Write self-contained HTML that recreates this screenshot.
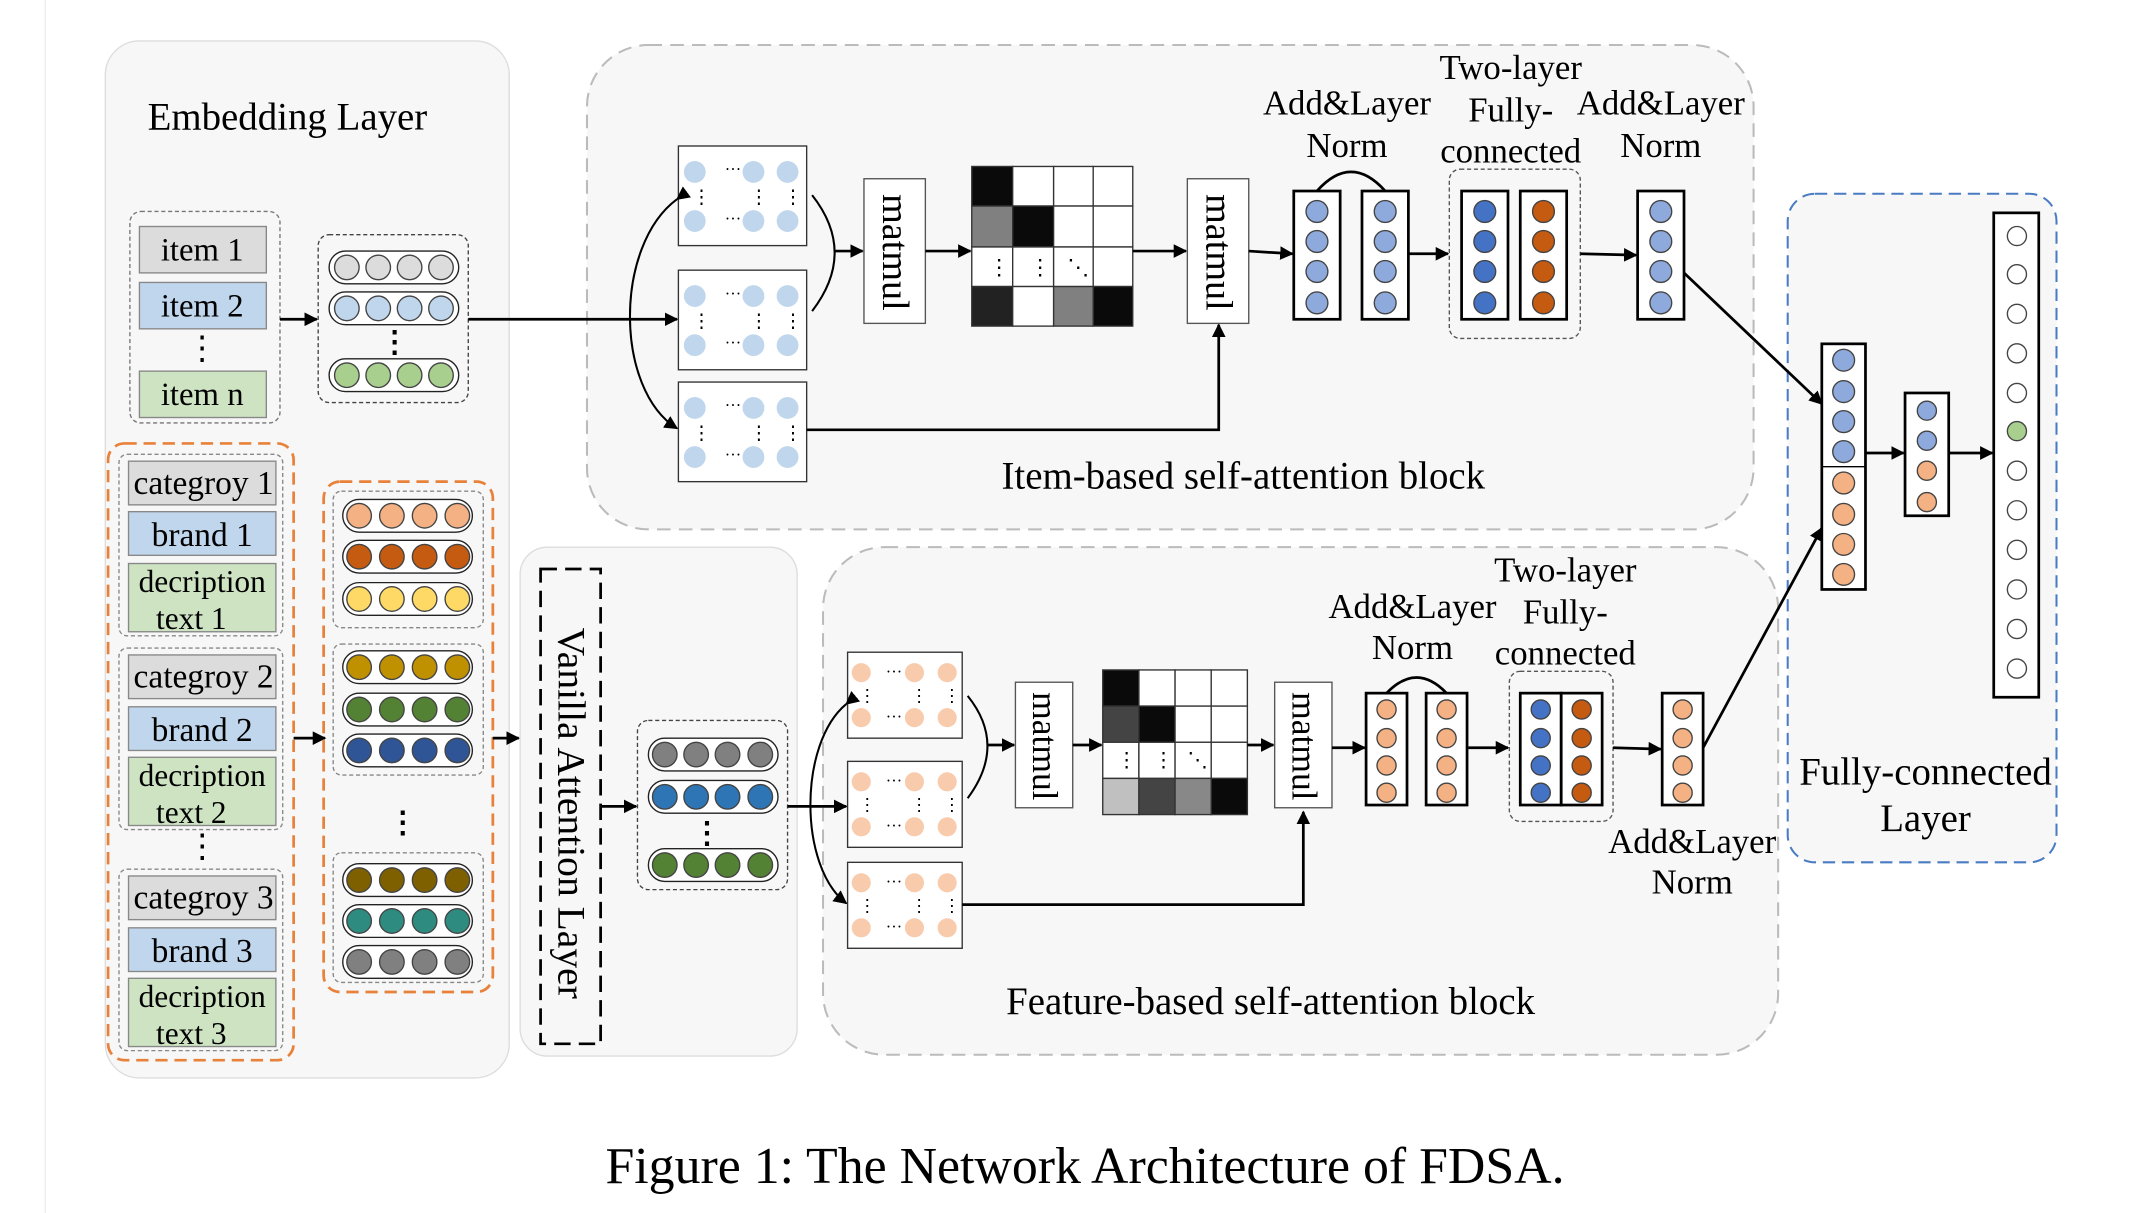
<!DOCTYPE html>
<html><head><meta charset="utf-8"><style>html,body{margin:0;padding:0;background:#fff}svg{display:block}text{font-family:"Liberation Serif",serif;fill:#000}</style></head><body>
<svg width="2140" height="1213" viewBox="0 0 1568 889" xmlns="http://www.w3.org/2000/svg">
<defs>
<marker id="a" markerWidth="10" markerHeight="10" refX="9" refY="5" orient="auto" markerUnits="userSpaceOnUse"><path d="M0,0 L10,5 L0,10 z" fill="#000"/></marker>
<g id="mi"><rect width="94" height="73" fill="#fff" stroke="#333"/>
<circle cx="12" cy="19" r="8" fill="#c0d6ec"/><circle cx="55" cy="19" r="8" fill="#c0d6ec"/><circle cx="80" cy="19" r="8" fill="#c0d6ec"/>
<circle cx="12" cy="55" r="8" fill="#c0d6ec"/><circle cx="55" cy="55" r="8" fill="#c0d6ec"/><circle cx="80" cy="55" r="8" fill="#c0d6ec"/>
<text x="34" y="21" font-size="12">···</text><text x="34" y="57" font-size="12">···</text>
<text x="10" y="42" font-size="14">⋮</text><text x="52" y="42" font-size="14">⋮</text><text x="77" y="42" font-size="14">⋮</text></g>
<g id="mf"><rect width="84" height="63" fill="#fff" stroke="#333"/>
<circle cx="10" cy="15" r="7" fill="#f8cbad"/><circle cx="49" cy="15" r="7" fill="#f8cbad"/><circle cx="73" cy="15" r="7" fill="#f8cbad"/>
<circle cx="10" cy="48" r="7" fill="#f8cbad"/><circle cx="49" cy="48" r="7" fill="#f8cbad"/><circle cx="73" cy="48" r="7" fill="#f8cbad"/>
<text x="28" y="18" font-size="12">···</text><text x="28" y="51" font-size="12">···</text>
<text x="8" y="36" font-size="13">⋮</text><text x="46" y="36" font-size="13">⋮</text><text x="70" y="36" font-size="13">⋮</text></g>
<g id="pill"><rect x="0" y="-12" width="95" height="24" rx="12" fill="#fff" stroke="#222"/></g>
</defs>
<rect width="1568" height="889" fill="#fff"/>
<line x1="33" y1="0" x2="33" y2="889" stroke="#eee"/>
<!-- Embedding panel -->
<rect x="77" y="30" width="296" height="760" rx="25" fill="#f7f7f7" stroke="#ddd"/>
<text x="108" y="95" font-size="28.5">Embedding Layer</text>
<rect x="95" y="155" width="110" height="155" rx="8" fill="none" stroke="#777" stroke-dasharray="3,2"/>
<rect x="102" y="166" width="93" height="34" fill="#dcdcdc" stroke="#888"/><text x="148" y="191" font-size="24" text-anchor="middle">item 1</text>
<rect x="102" y="207" width="93" height="34" fill="#c0d6ec" stroke="#888"/><text x="148" y="232" font-size="24" text-anchor="middle">item 2</text>
<text x="148" y="263" font-size="24" text-anchor="middle">⋮</text>
<rect x="102" y="272" width="93" height="34" fill="#cde3c2" stroke="#888"/><text x="148" y="297" font-size="24" text-anchor="middle">item n</text>
<line x1="205" y1="234" x2="232" y2="234" stroke="#000" stroke-width="2" marker-end="url(#a)"/>
<rect x="233" y="172" width="110" height="123" rx="8" fill="none" stroke="#444" stroke-dasharray="3,2"/>
<use href="#pill" x="241" y="196"/><g fill="#dcdcdc" stroke="#444"><circle cx="254" cy="196" r="9"/><circle cx="277" cy="196" r="9"/><circle cx="300" cy="196" r="9"/><circle cx="323" cy="196" r="9"/></g>
<use href="#pill" x="241" y="226"/><g fill="#c0d6ec" stroke="#444"><circle cx="254" cy="226" r="9"/><circle cx="277" cy="226" r="9"/><circle cx="300" cy="226" r="9"/><circle cx="323" cy="226" r="9"/></g>
<text x="289" y="258" font-size="22" text-anchor="middle" font-weight="bold">⋮</text>
<use href="#pill" x="241" y="275"/><g fill="#a9cf8f" stroke="#444"><circle cx="254" cy="275" r="9"/><circle cx="277" cy="275" r="9"/><circle cx="300" cy="275" r="9"/><circle cx="323" cy="275" r="9"/></g>
<!-- Attribute groups -->
<rect x="79" y="325" width="136" height="452" rx="12" fill="none" stroke="#e8823a" stroke-width="2" stroke-dasharray="9,5"/>
<g stroke="#888" stroke-dasharray="3,2" fill="none"><rect x="87" y="333" width="120" height="133" rx="6"/><rect x="87" y="475" width="120" height="133" rx="6"/><rect x="87" y="637" width="120" height="133" rx="6"/></g>
<g stroke="#888">
<rect x="94" y="338" width="108" height="32" fill="#dcdcdc"/><rect x="94" y="375" width="108" height="32" fill="#c0d6ec"/><rect x="94" y="413" width="108" height="50" fill="#cde3c2"/>
<rect x="94" y="480" width="108" height="32" fill="#dcdcdc"/><rect x="94" y="518" width="108" height="32" fill="#c0d6ec"/><rect x="94" y="555" width="108" height="50" fill="#cde3c2"/>
<rect x="94" y="642" width="108" height="32" fill="#dcdcdc"/><rect x="94" y="680" width="108" height="32" fill="#c0d6ec"/><rect x="94" y="717" width="108" height="50" fill="#cde3c2"/></g>
<g font-size="24.5" text-anchor="middle">
<text x="149" y="362">categroy 1</text><text x="148" y="400">brand 1</text>
<text x="149" y="504">categroy 2</text><text x="148" y="543">brand 2</text>
<text x="149" y="666">categroy 3</text><text x="148" y="705">brand 3</text>
<text x="148" y="628">⋮</text></g>
<g font-size="23" text-anchor="middle">
<text x="148" y="434">decription</text><text x="140" y="461">text 1</text>
<text x="148" y="576">decription</text><text x="140" y="603">text 2</text>
<text x="148" y="738">decription</text><text x="140" y="765">text 3</text></g>
<line x1="215" y1="541" x2="238" y2="541" stroke="#000" stroke-width="2" marker-end="url(#a)"/>
<rect x="237" y="353" width="124" height="374" rx="12" fill="none" stroke="#e8823a" stroke-width="2" stroke-dasharray="9,5"/>
<g stroke="#888" stroke-dasharray="3,2" fill="none"><rect x="244" y="360" width="110" height="100" rx="6"/><rect x="244" y="472" width="110" height="96" rx="6"/><rect x="244" y="625" width="110" height="95" rx="6"/></g>
<use href="#pill" x="251" y="378"/><g fill="#f4b183" stroke="#444"><circle cx="263" cy="378" r="9"/><circle cx="287" cy="378" r="9"/><circle cx="311" cy="378" r="9"/><circle cx="335" cy="378" r="9"/></g>
<use href="#pill" x="251" y="408"/><g fill="#c55a11" stroke="#444"><circle cx="263" cy="408" r="9"/><circle cx="287" cy="408" r="9"/><circle cx="311" cy="408" r="9"/><circle cx="335" cy="408" r="9"/></g>
<use href="#pill" x="251" y="439"/><g fill="#ffd966" stroke="#444"><circle cx="263" cy="439" r="9"/><circle cx="287" cy="439" r="9"/><circle cx="311" cy="439" r="9"/><circle cx="335" cy="439" r="9"/></g>
<use href="#pill" x="251" y="489"/><g fill="#bf9000" stroke="#444"><circle cx="263" cy="489" r="9"/><circle cx="287" cy="489" r="9"/><circle cx="311" cy="489" r="9"/><circle cx="335" cy="489" r="9"/></g>
<use href="#pill" x="251" y="520"/><g fill="#548235" stroke="#444"><circle cx="263" cy="520" r="9"/><circle cx="287" cy="520" r="9"/><circle cx="311" cy="520" r="9"/><circle cx="335" cy="520" r="9"/></g>
<use href="#pill" x="251" y="550"/><g fill="#2f5597" stroke="#444"><circle cx="263" cy="550" r="9"/><circle cx="287" cy="550" r="9"/><circle cx="311" cy="550" r="9"/><circle cx="335" cy="550" r="9"/></g>
<text x="295" y="610" font-size="22" text-anchor="middle" font-weight="bold">⋮</text>
<use href="#pill" x="251" y="645"/><g fill="#7f6000" stroke="#444"><circle cx="263" cy="645" r="9"/><circle cx="287" cy="645" r="9"/><circle cx="311" cy="645" r="9"/><circle cx="335" cy="645" r="9"/></g>
<use href="#pill" x="251" y="675"/><g fill="#2e8b80" stroke="#444"><circle cx="263" cy="675" r="9"/><circle cx="287" cy="675" r="9"/><circle cx="311" cy="675" r="9"/><circle cx="335" cy="675" r="9"/></g>
<use href="#pill" x="251" y="705"/><g fill="#808080" stroke="#444"><circle cx="263" cy="705" r="9"/><circle cx="287" cy="705" r="9"/><circle cx="311" cy="705" r="9"/><circle cx="335" cy="705" r="9"/></g>
<line x1="361" y1="541" x2="380" y2="541" stroke="#000" stroke-width="2" marker-end="url(#a)"/>
<!-- Vanilla -->
<rect x="381" y="401" width="203" height="373" rx="20" fill="#f7f7f7" stroke="#ddd"/>
<rect x="396" y="417" width="44" height="348" fill="none" stroke="#000" stroke-width="2" stroke-dasharray="12,6"/>
<text transform="translate(409,596) rotate(90)" font-size="29" text-anchor="middle">Vanilla Attention Layer</text>
<line x1="440" y1="591" x2="466" y2="591" stroke="#000" stroke-width="2" marker-end="url(#a)"/>
<rect x="467" y="528" width="110" height="124" rx="8" fill="none" stroke="#444" stroke-dasharray="3,2"/>
<use href="#pill" x="475" y="553"/><g fill="#808080" stroke="#444"><circle cx="487" cy="553" r="9"/><circle cx="510" cy="553" r="9"/><circle cx="533" cy="553" r="9"/><circle cx="557" cy="553" r="9"/></g>
<use href="#pill" x="475" y="584"/><g fill="#2e75b6" stroke="#444"><circle cx="487" cy="584" r="9"/><circle cx="510" cy="584" r="9"/><circle cx="533" cy="584" r="9"/><circle cx="557" cy="584" r="9"/></g>
<text x="518" y="618" font-size="22" text-anchor="middle" font-weight="bold">⋮</text>
<use href="#pill" x="475" y="634"/><g fill="#548235" stroke="#444"><circle cx="487" cy="634" r="9"/><circle cx="510" cy="634" r="9"/><circle cx="533" cy="634" r="9"/><circle cx="557" cy="634" r="9"/></g>
<!-- Item block -->
<rect x="430" y="33" width="855" height="355" rx="45" fill="#f7f7f7" stroke="#bbb" stroke-width="1.5" stroke-dasharray="10,6"/>
<text x="911" y="358" font-size="28.5" text-anchor="middle">Item-based self-attention block</text>
<line x1="343" y1="234" x2="496" y2="234" stroke="#000" stroke-width="2" marker-end="url(#a)"/>
<use href="#mi" x="497" y="107"/><use href="#mi" x="497" y="198"/><use href="#mi" x="497" y="280"/>
<path d="M496,146 C450,180 450,285 496,314" fill="none" stroke="#000" stroke-width="1.5" marker-start="url(#a)" marker-end="url(#a)"/>
<path d="M595,143 Q628,185 595,228" fill="none" stroke="#000" stroke-width="1.5"/>
<line x1="612" y1="184" x2="632" y2="184" stroke="#000" stroke-width="2" marker-end="url(#a)"/>
<rect x="633" y="131" width="45" height="106" fill="#fff" stroke="#555"/>
<text transform="translate(647,185) rotate(90)" font-size="28" text-anchor="middle">matmul</text>
<line x1="678" y1="184" x2="711" y2="184" stroke="#000" stroke-width="2" marker-end="url(#a)"/>
<g stroke="#333"><rect x="712" y="122" width="30" height="29" fill="#0a0a0a"/><rect x="742" y="122" width="30" height="29" fill="#fff"/><rect x="772" y="122" width="29" height="29" fill="#fff"/><rect x="801" y="122" width="29" height="29" fill="#fff"/>
<rect x="712" y="151" width="30" height="30" fill="#808080"/><rect x="742" y="151" width="30" height="30" fill="#0a0a0a"/><rect x="772" y="151" width="29" height="30" fill="#fff"/><rect x="801" y="151" width="29" height="30" fill="#fff"/>
<rect x="712" y="181" width="30" height="29" fill="#fff"/><rect x="742" y="181" width="30" height="29" fill="#fff"/><rect x="772" y="181" width="29" height="29" fill="#fff"/><rect x="801" y="181" width="29" height="29" fill="#fff"/>
<rect x="712" y="210" width="30" height="29" fill="#222"/><rect x="742" y="210" width="30" height="29" fill="#fff"/><rect x="772" y="210" width="29" height="29" fill="#808080"/><rect x="801" y="210" width="29" height="29" fill="#0a0a0a"/></g>
<g font-size="16"><text x="724" y="201">⋮</text><text x="754" y="201">⋮</text><text x="782" y="201">⋱</text></g>
<line x1="830" y1="184" x2="869" y2="184" stroke="#000" stroke-width="2" marker-end="url(#a)"/>
<rect x="870" y="131" width="45" height="106" fill="#fff" stroke="#555"/>
<text transform="translate(884,185) rotate(90)" font-size="28" text-anchor="middle">matmul</text>
<polyline points="591,315 893,315 893,238" fill="none" stroke="#000" stroke-width="2" marker-end="url(#a)"/>
<line x1="915" y1="184" x2="947" y2="186" stroke="#000" stroke-width="2" marker-end="url(#a)"/>
<g stroke="#000" stroke-width="2" fill="#fff"><rect x="948" y="140" width="34" height="94"/><rect x="998" y="140" width="34" height="94"/><rect x="1071" y="140" width="34" height="94"/><rect x="1114" y="140" width="34" height="94"/><rect x="1200" y="140" width="34" height="94"/></g>
<path d="M965,140 Q990,112 1015,140" fill="none" stroke="#000" stroke-width="2"/>
<g stroke="#444" fill="#8ea9db"><circle cx="965" cy="155" r="8"/><circle cx="965" cy="177" r="8"/><circle cx="965" cy="199" r="8"/><circle cx="965" cy="222" r="8"/>
<circle cx="1015" cy="155" r="8"/><circle cx="1015" cy="177" r="8"/><circle cx="1015" cy="199" r="8"/><circle cx="1015" cy="222" r="8"/>
<circle cx="1217" cy="155" r="8"/><circle cx="1217" cy="177" r="8"/><circle cx="1217" cy="199" r="8"/><circle cx="1217" cy="222" r="8"/></g>
<g stroke="#444" fill="#4472c4"><circle cx="1088" cy="155" r="8"/><circle cx="1088" cy="177" r="8"/><circle cx="1088" cy="199" r="8"/><circle cx="1088" cy="222" r="8"/></g>
<g stroke="#444" fill="#c55a11"><circle cx="1131" cy="155" r="8"/><circle cx="1131" cy="177" r="8"/><circle cx="1131" cy="199" r="8"/><circle cx="1131" cy="222" r="8"/></g>
<rect x="1062" y="124" width="96" height="124" rx="8" fill="none" stroke="#555" stroke-dasharray="3,2"/>
<line x1="1032" y1="186" x2="1061" y2="186" stroke="#000" stroke-width="2" marker-end="url(#a)"/>
<line x1="1158" y1="186" x2="1199" y2="187" stroke="#000" stroke-width="2" marker-end="url(#a)"/>
<g font-size="25.5" text-anchor="middle"><text x="987" y="84">Add&amp;Layer</text><text x="987" y="115">Norm</text>
<text x="1107" y="58">Two-layer</text><text x="1107" y="89">Fully-</text><text x="1107" y="119">connected</text>
<text x="1217" y="84">Add&amp;Layer</text><text x="1217" y="115">Norm</text></g>
<!-- Feature block -->
<rect x="603" y="401" width="700" height="372" rx="45" fill="#f7f7f7" stroke="#bbb" stroke-width="1.5" stroke-dasharray="10,6"/>
<text x="931" y="743" font-size="28.5" text-anchor="middle">Feature-based self-attention block</text>
<line x1="577" y1="591" x2="620" y2="591" stroke="#000" stroke-width="2" marker-end="url(#a)"/>
<use href="#mf" x="621" y="478"/><use href="#mf" x="621" y="558"/><use href="#mf" x="621" y="632"/>
<path d="M620,516 C585,545 585,635 620,662" fill="none" stroke="#000" stroke-width="1.5" marker-start="url(#a)" marker-end="url(#a)"/>
<path d="M709,510 Q738,546 709,585" fill="none" stroke="#000" stroke-width="1.5"/>
<line x1="724" y1="546" x2="743" y2="546" stroke="#000" stroke-width="2" marker-end="url(#a)"/>
<rect x="744" y="500" width="42" height="92" fill="#fff" stroke="#555"/>
<text transform="translate(757,547) rotate(90)" font-size="26" text-anchor="middle">matmul</text>
<line x1="786" y1="546" x2="807" y2="546" stroke="#000" stroke-width="2" marker-end="url(#a)"/>
<g stroke="#333"><rect x="808" y="491" width="26.5" height="26.5" fill="#0a0a0a"/><rect x="834.5" y="491" width="26.5" height="26.5" fill="#fff"/><rect x="861" y="491" width="26.5" height="26.5" fill="#fff"/><rect x="887.5" y="491" width="26.5" height="26.5" fill="#fff"/>
<rect x="808" y="517.5" width="26.5" height="26.5" fill="#444"/><rect x="834.5" y="517.5" width="26.5" height="26.5" fill="#0a0a0a"/><rect x="861" y="517.5" width="26.5" height="26.5" fill="#fff"/><rect x="887.5" y="517.5" width="26.5" height="26.5" fill="#fff"/>
<rect x="808" y="544" width="26.5" height="26.5" fill="#fff"/><rect x="834.5" y="544" width="26.5" height="26.5" fill="#fff"/><rect x="861" y="544" width="26.5" height="26.5" fill="#fff"/><rect x="887.5" y="544" width="26.5" height="26.5" fill="#fff"/>
<rect x="808" y="570.5" width="26.5" height="26.5" fill="#c0c0c0"/><rect x="834.5" y="570.5" width="26.5" height="26.5" fill="#444"/><rect x="861" y="570.5" width="26.5" height="26.5" fill="#888"/><rect x="887.5" y="570.5" width="26.5" height="26.5" fill="#0a0a0a"/></g>
<g font-size="15"><text x="818" y="562">⋮</text><text x="845" y="562">⋮</text><text x="870" y="562">⋱</text></g>
<line x1="914" y1="546" x2="933" y2="546" stroke="#000" stroke-width="2" marker-end="url(#a)"/>
<rect x="934" y="500" width="42" height="92" fill="#fff" stroke="#555"/>
<text transform="translate(947,547) rotate(90)" font-size="26" text-anchor="middle">matmul</text>
<polyline points="705,663 955,663 955,595" fill="none" stroke="#000" stroke-width="2" marker-end="url(#a)"/>
<line x1="976" y1="548" x2="1000" y2="548" stroke="#000" stroke-width="2" marker-end="url(#a)"/>
<g stroke="#000" stroke-width="2" fill="#fff"><rect x="1001" y="508" width="30" height="82"/><rect x="1045" y="508" width="30" height="82"/><rect x="1114" y="508" width="30" height="82"/><rect x="1144" y="508" width="30" height="82"/><rect x="1218" y="508" width="30" height="82"/></g>
<path d="M1016,508 Q1038,485 1060,508" fill="none" stroke="#000" stroke-width="2"/>
<g stroke="#444" fill="#f4b183"><circle cx="1016" cy="520" r="7"/><circle cx="1016" cy="541" r="7"/><circle cx="1016" cy="561" r="7"/><circle cx="1016" cy="581" r="7"/>
<circle cx="1060" cy="520" r="7"/><circle cx="1060" cy="541" r="7"/><circle cx="1060" cy="561" r="7"/><circle cx="1060" cy="581" r="7"/>
<circle cx="1233" cy="520" r="7"/><circle cx="1233" cy="541" r="7"/><circle cx="1233" cy="561" r="7"/><circle cx="1233" cy="581" r="7"/></g>
<g stroke="#444" fill="#4472c4"><circle cx="1129" cy="520" r="7"/><circle cx="1129" cy="541" r="7"/><circle cx="1129" cy="561" r="7"/><circle cx="1129" cy="581" r="7"/></g>
<g stroke="#444" fill="#c55a11"><circle cx="1159" cy="520" r="7"/><circle cx="1159" cy="541" r="7"/><circle cx="1159" cy="561" r="7"/><circle cx="1159" cy="581" r="7"/></g>
<rect x="1106" y="492" width="76" height="110" rx="8" fill="none" stroke="#555" stroke-dasharray="3,2"/>
<line x1="1076" y1="548" x2="1105" y2="548" stroke="#000" stroke-width="2" marker-end="url(#a)"/>
<line x1="1182" y1="548" x2="1217" y2="549" stroke="#000" stroke-width="2" marker-end="url(#a)"/>
<g font-size="25.5" text-anchor="middle"><text x="1035" y="453">Add&amp;Layer</text><text x="1035" y="483">Norm</text>
<text x="1147" y="426">Two-layer</text><text x="1147" y="457">Fully-</text><text x="1147" y="487">connected</text>
<text x="1240" y="625">Add&amp;Layer</text><text x="1240" y="655">Norm</text></g>
<!-- FC layer -->
<rect x="1310" y="142" width="197" height="490" rx="20" fill="#f7f7f7" stroke="#4a7cc4" stroke-width="1.5" stroke-dasharray="9,5"/>
<line x1="1234" y1="200" x2="1335" y2="296" stroke="#000" stroke-width="2" marker-end="url(#a)"/>
<line x1="1248" y1="548" x2="1335" y2="387" stroke="#000" stroke-width="2" marker-end="url(#a)"/>
<g stroke="#000" stroke-width="2" fill="#fff"><rect x="1335" y="252" width="32" height="180"/><rect x="1396" y="288" width="32" height="90"/><rect x="1461" y="156" width="33" height="355"/></g>
<line x1="1335" y1="342" x2="1367" y2="342" stroke="#000"/>
<g stroke="#444" fill="#8ea9db"><circle cx="1351" cy="264" r="8"/><circle cx="1351" cy="287" r="8"/><circle cx="1351" cy="309" r="8"/><circle cx="1351" cy="331" r="8"/><circle cx="1412" cy="301" r="7"/><circle cx="1412" cy="323" r="7"/></g>
<g stroke="#444" fill="#f4b183"><circle cx="1351" cy="354" r="8"/><circle cx="1351" cy="377" r="8"/><circle cx="1351" cy="399" r="8"/><circle cx="1351" cy="421" r="8"/><circle cx="1412" cy="345" r="7"/><circle cx="1412" cy="368" r="7"/></g>
<g stroke="#444" fill="#fff"><circle cx="1478" cy="173" r="7"/><circle cx="1478" cy="201" r="7"/><circle cx="1478" cy="230" r="7"/><circle cx="1478" cy="259" r="7"/><circle cx="1478" cy="288" r="7"/><circle cx="1478" cy="316" r="7" fill="#a9cf8f"/><circle cx="1478" cy="345" r="7"/><circle cx="1478" cy="374" r="7"/><circle cx="1478" cy="403" r="7"/><circle cx="1478" cy="432" r="7"/><circle cx="1478" cy="461" r="7"/><circle cx="1478" cy="490" r="7"/></g>
<line x1="1367" y1="332" x2="1395" y2="332" stroke="#000" stroke-width="2" marker-end="url(#a)"/>
<line x1="1428" y1="332" x2="1460" y2="332" stroke="#000" stroke-width="2" marker-end="url(#a)"/>
<text x="1411" y="575" font-size="28.5" text-anchor="middle">Fully-connected</text>
<text x="1411" y="609" font-size="28.5" text-anchor="middle">Layer</text>
<text x="795" y="867" font-size="38" text-anchor="middle">Figure 1: The Network Architecture of FDSA.</text>
</svg>
</body></html>
